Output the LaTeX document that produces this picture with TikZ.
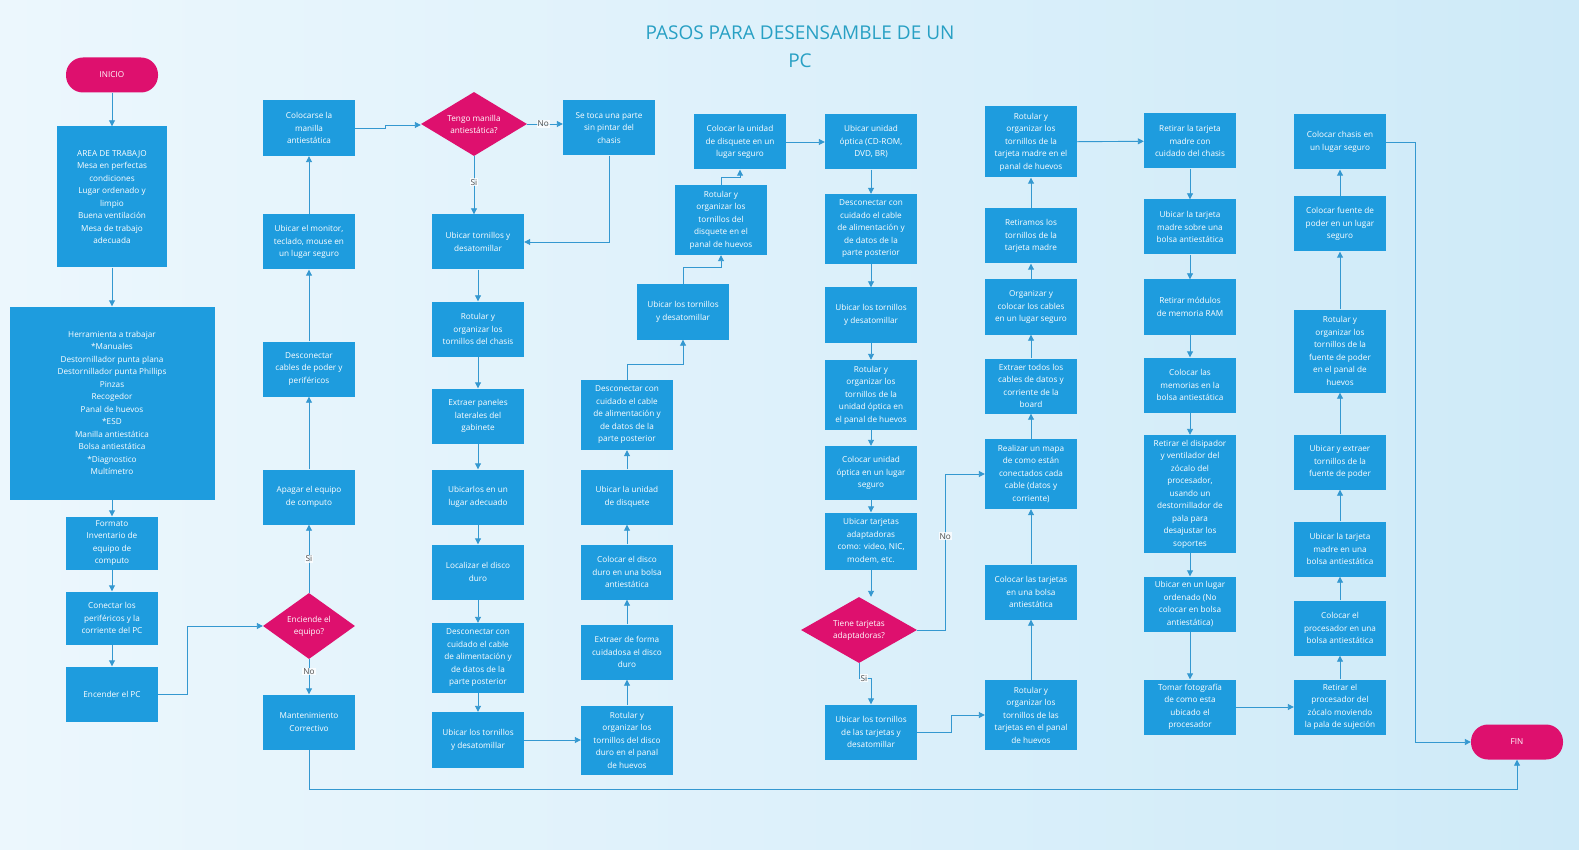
\documentclass[tikz,border=0pt]{standalone}
\usepackage{fontspec}
\setmainfont{Open Sans}
\usetikzlibrary{arrows.meta,shapes.geometric,calc}
\definecolor{boxc}{RGB}{30,156,222}
\definecolor{magc}{RGB}{222,16,110}
\definecolor{linec}{RGB}{52,152,208}
\definecolor{titc}{RGB}{40,160,196}
\definecolor{bgl}{RGB}{236,247,253}
\definecolor{bgd}{RGB}{206,234,248}
\begin{document}
\begin{tikzpicture}[x=1pt,y=-1pt,
  box/.style={fill=boxc,text=white,minimum width=92pt,minimum height=55pt,align=center,inner sep=1pt,font=\fontsize{8.2}{12.5}\selectfont},
  dec/.style={diamond,aspect=1.6,fill=magc,text=white,align=center,inner sep=0pt,font=\fontsize{8.2}{12}\selectfont},
  term/.style={rectangle,fill=magc,text=white,minimum width=92pt,minimum height=35pt,font=\fontsize{8.2}{10}\selectfont,rounded corners=17pt},
  lbl/.style={fill=white,fill opacity=0.8,text opacity=1,text=black!70,inner sep=1pt,font=\fontsize{8.2}{9}\selectfont},
  arr/.style={draw=linec,line width=0.9pt,-{Triangle[length=6pt,width=6pt]}}]
\useasboundingbox (0,0) rectangle (1579,850);
\shade[left color=bgl,right color=bgd] (0,0) rectangle (1579,850);
\node[text=titc,align=center,font=\fontsize{19}{28}\selectfont] (title) at (800,47) {PASOS PARA DESENSAMBLE DE UN\\PC};
% column 1
\node[term] (ini) at (112,75) {INICIO};
\node[box,minimum width=110pt,minimum height=141pt] (area) at (112,197) {AREA DE TRABAJO\\Mesa en perfectas\\condiciones\\Lugar ordenado y\\limpio\\Buena ventilación\\Mesa de trabajo\\adecuada};
\node[box,minimum width=205pt,minimum height=193pt] (herr) at (112,403) {Herramienta a trabajar\\*Manuales\\Destornillador punta plana\\Destornillador punta Phillips\\Pinzas\\Recogedor\\Panal de huevos\\*ESD\\Manilla antiestática\\Bolsa antiestática\\*Diagnostico\\Multímetro};
\node[box,minimum height=53pt] (form) at (112,543) {Formato\\Inventario de\\equipo de\\computo};
\node[box,minimum height=53pt] (conec) at (112,618) {Conectar los\\periféricos y la\\corriente del PC};
\node[box] (enc) at (112,694) {Encender el PC};
% column 2
\node[box,minimum height=56pt] (manilla) at (309,128) {Colocarse la\\manilla\\antiestática};
\node[box] (monitor) at (309,242) {Ubicar el monitor,\\teclado, mouse en\\un lugar seguro};
\node[box] (descab) at (309,369) {Desconectar\\cables de poder y\\periféricos};
\node[box] (apagar) at (309,497) {Apagar el equipo\\de computo};
\node[dec,minimum width=92pt,minimum height=66pt] (encd) at (309,626) {Enciende el\\equipo?};
\node[box] (mant) at (309,722) {Mantenimiento\\Correctivo};
% column 3
\node[dec,minimum width=106pt,minimum height=64pt] (tengo) at (474,124) {Tengo manilla\\antiestática?};
\node[box] (toca) at (609,128) {Se toca una parte\\sin pintar del\\chasis};
\node[box] (ubt1) at (478,242) {Ubicar tornillos y\\desatomillar};
\node[box] (rotch) at (478,329) {Rotular y\\organizar los\\tornillos del chasis};
\node[box] (pan) at (478,416) {Extraer paneles\\laterales del\\gabinete};
\node[box] (ubic) at (478,497) {Ubicarlos en un\\lugar adecuado};
\node[box] (loc) at (478,572) {Localizar el disco\\duro};
\node[box,minimum height=70pt] (desd) at (478,658) {Desconectar con\\cuidado el cable\\de alimentación y\\de datos de la\\parte posterior};
\node[box,minimum height=56pt] (ubt2) at (478,740) {Ubicar los tornillos\\y desatomillar};
% column 4
\node[box,minimum height=69pt] (rotd) at (627,740) {Rotular y\\organizar los\\tornillos del disco\\duro en el panal\\de huevos};
\node[box] (extd) at (627,652) {Extraer de forma\\cuidadosa el disco\\duro};
\node[box] (cold) at (627,572) {Colocar el disco\\duro en una bolsa\\antiestática};
\node[box] (ubdq) at (627,497) {Ubicar la unidad\\de disquete};
\node[box,minimum height=70pt] (desdq) at (627,415) {Desconectar con\\cuidado el cable\\de alimentación y\\de datos de la\\parte posterior};
\node[box] (ubt3) at (683,312) {Ubicar los tornillos\\y desatomillar};
\node[box,minimum height=70pt] (rotdq) at (721,220) {Rotular y\\organizar los\\tornillos del\\disquete en el\\panal de huevos};
\node[box] (coldq) at (740,142) {Colocar la unidad\\de disquete en un\\lugar seguro};
% column 5
\node[box] (ubop) at (871,142) {Ubicar unidad\\óptica (CD-ROM,\\DVD, BR)};
\node[box,minimum height=70pt] (desop) at (871,229) {Desconectar con\\cuidado el cable\\de alimentación y\\de datos de la\\parte posterior};
\node[box] (ubt4) at (871,315) {Ubicar los tornillos\\y desatomillar};
\node[box,minimum height=70pt] (rotop) at (871,395) {Rotular y\\organizar los\\tornillos de la\\unidad óptica en\\el panal de huevos};
\node[box,minimum height=54pt] (colop) at (871,473) {Colocar unidad\\óptica en un lugar\\seguro};
\node[box,minimum height=57pt] (ubtj) at (871,541) {Ubicar tarjetas\\adaptadoras\\como: video, NIC,\\modem, etc.};
\node[dec,minimum width=116pt,minimum height=66pt] (tiene) at (859,630) {Tiene tarjetas\\adaptadoras?};
\node[box] (ubt5) at (871,732) {Ubicar los tornillos\\de las tarjetas y\\desatomillar};
% column 6
\node[box,minimum height=71pt] (rotm) at (1031,142) {Rotular y\\organizar los\\tornillos de la\\tarjeta madre en el\\panal de huevos};
\node[box] (retm) at (1031,236) {Retiramos los\\tornillos de la\\tarjeta madre};
\node[box] (orgc) at (1031,307) {Organizar y\\colocar los cables\\en un lugar seguro};
\node[box] (extc) at (1031,386) {Extraer todos los\\cables de datos y\\corriente de la\\board};
\node[box,minimum height=70pt] (mapa) at (1031,474) {Realizar un mapa\\de como están\\conectados cada\\cable (datos y\\corriente)};
\node[box] (coltj) at (1031,592) {Colocar las tarjetas\\en una bolsa\\antiestática};
\node[box,minimum height=70pt] (rottj) at (1031,715) {Rotular y\\organizar los\\tornillos de las\\tarjetas en el panal\\de huevos};
% column 7
\node[box] (rettm) at (1190,141) {Retirar la tarjeta\\madre con\\cuidado del chasis};
\node[box] (ubtm) at (1190,227) {Ubicar la tarjeta\\madre sobre una\\bolsa antiestática};
\node[box] (ram) at (1190,307) {Retirar módulos\\de memoria RAM};
\node[box] (colmem) at (1190,385) {Colocar las\\memorias en la\\bolsa antiestática};
\node[box,minimum height=118pt] (disip) at (1190,494) {Retirar el disipador\\y ventilador del\\zócalo del\\procesador,\\usando un\\destornillador de\\pala para\\desajustar los\\soportes};
\node[box] (ord) at (1190,604) {Ubicar en un lugar\\ordenado (No\\colocar en bolsa\\antiestática)};
\node[box] (foto) at (1190,707) {Tomar fotografía\\de como esta\\ubicado el\\procesador};
% column 8
\node[box] (retp) at (1340,707) {Retirar el\\procesador del\\zócalo moviendo\\la pala de sujeción};
\node[box] (colp) at (1340,628) {Colocar el\\procesador en una\\bolsa antiestática};
\node[box] (ubtm2) at (1340,549) {Ubicar la tarjeta\\madre en una\\bolsa antiestática};
\node[box] (ubf) at (1340,462) {Ubicar y extraer\\tornillos de la\\fuente de poder};
\node[box,minimum height=83pt] (rotf) at (1340,351) {Rotular y\\organizar los\\tornillos de la\\fuente de poder\\en el panal de\\huevos};
\node[box] (colf) at (1340,224) {Colocar fuente de\\poder en un lugar\\seguro};
\node[box] (colch) at (1340,142) {Colocar chasis en\\un lugar seguro};
\node[term] (fin) at (1517,742) {FIN};
% connectors
\draw[arr] (ini) -- (area);
\draw[arr] (area) -- (herr);
\draw[arr] (herr) -- (form);
\draw[arr] (form) -- (conec);
\draw[arr] (conec) -- (enc);
\draw[arr] (enc.east) -- ++(29,0) |- (encd.west);
\draw[arr] (encd.north) -- node[lbl,pos=0.5]{Si} (apagar.south);
\draw[arr] (encd.south) -- node[lbl,pos=0.35]{No} (mant.north);
\draw[arr] (apagar) -- (descab);
\draw[arr] (descab) -- (monitor);
\draw[arr] (monitor) -- (manilla);
\draw[arr] (manilla.east) -- ++(30,0) -- ++(0,-3) -- (tengo.west |- 0,125);
\draw[arr] (tengo.east) -- node[lbl,pos=0.45]{No} (toca.west |- tengo.east);
\draw[arr] (tengo.south) -- node[lbl,pos=0.45]{Si} (ubt1.north -| tengo.south);
\draw[arr] (toca.south) |- (ubt1.east);
\draw[arr] (ubt1) -- (rotch);
\draw[arr] (rotch) -- (pan);
\draw[arr] (pan) -- (ubic);
\draw[arr] (ubic) -- (loc);
\draw[arr] (loc) -- (desd);
\draw[arr] (desd) -- (ubt2);
\draw[arr] (ubt2) -- (rotd);
\draw[arr] (rotd) -- (extd);
\draw[arr] (extd) -- (cold);
\draw[arr] (cold) -- (ubdq);
\draw[arr] (ubdq) -- (desdq);
\draw[arr] (desdq.north) -- ++(0,-15) -| (ubt3.south);
\draw[arr] (ubt3.north) -- ++(0,-17) -| (rotdq.south);
\draw[arr] (rotdq.north) -- ++(0,-7) -| (coldq.south);
\draw[arr] (coldq) -- (ubop);
\draw[arr] (ubop) -- (desop);
\draw[arr] (desop) -- (ubt4);
\draw[arr] (ubt4) -- (rotop);
\draw[arr] (rotop) -- (colop);
\draw[arr] (colop) -- (ubtj);
\draw[arr] (ubtj.south) -- (ubtj.south |- tiene.north);
\draw[arr] (tiene.south) -- ++(0,15) -| node[lbl,pos=0.2]{Si} (ubt5.north);
\draw[arr] (tiene.east) -- ++(28,0) |- node[lbl,pos=0.3]{No} (mapa.west);
\draw[arr] (ubt5.east) -- ++(34,0) |- (rottj.west);
\draw[arr] (rottj) -- (coltj);
\draw[arr] (coltj) -- (mapa);
\draw[arr] (mapa) -- (extc);
\draw[arr] (extc) -- (orgc);
\draw[arr] (orgc) -- (retm);
\draw[arr] (retm) -- (rotm);
\draw[arr] (rotm) -- (rettm);
\draw[arr] (rettm) -- (ubtm);
\draw[arr] (ubtm) -- (ram);
\draw[arr] (ram) -- (colmem);
\draw[arr] (colmem) -- (disip);
\draw[arr] (disip) -- (ord);
\draw[arr] (ord) -- (foto);
\draw[arr] (foto) -- (retp);
\draw[arr] (retp) -- (colp);
\draw[arr] (colp) -- (ubtm2);
\draw[arr] (ubtm2) -- (ubf);
\draw[arr] (ubf) -- (rotf);
\draw[arr] (rotf) -- (colf);
\draw[arr] (colf) -- (colch);
\draw[arr] (colch.east) -- ++(29,0) |- (fin.west);
\draw[arr] (mant.south) -- ++(0,40) -| (fin.south);
\end{tikzpicture}
\end{document}
